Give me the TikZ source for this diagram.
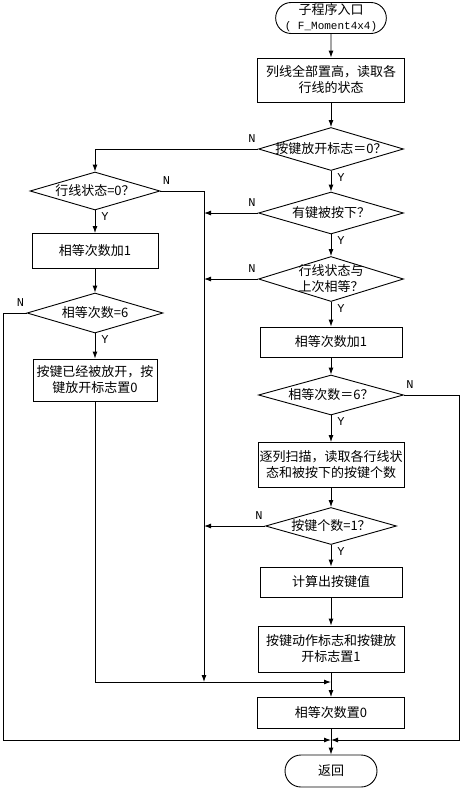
\documentclass[tikz,border=0pt]{standalone}
\usepackage{fontspec}
\setmainfont{Noto Sans CJK SC}
\newfontfamily\latinmono{Liberation Mono}
\usetikzlibrary{arrows.meta,positioning,shapes.geometric,shapes.misc}

\begin{document}
\begin{tikzpicture}[
  x=1pt, y=-1pt, line width=0.9pt,
  every node/.style={font=\fontsize{13}{16}\selectfont},
  block/.style={draw, align=center, inner sep=0pt, minimum width=146pt, minimum height=30pt},
  terminal/.style={draw, rounded rectangle, align=center, inner sep=0pt, minimum width=106pt, minimum height=31pt},
  decision/.style={draw, diamond, inner sep=0pt, minimum width=145pt, minimum height=42pt},
  arrow/.style={-{Latex[length=7pt,width=5pt]}},
  ylab/.style={font=\latinmono\fontsize{12}{12}\selectfont, inner sep=2pt, pos=0, anchor=north west, xshift=4pt},
  nlabl/.style={font=\latinmono\fontsize{12}{12}\selectfont, inner sep=2pt, pos=0, anchor=south east, yshift=4pt},
  nlabr/.style={font=\latinmono\fontsize{12}{12}\selectfont, inner sep=2pt, pos=0, anchor=south west, yshift=4pt}
]
\useasboundingbox (0,0) rectangle (461,788);

\node[terminal] (start) at (331,18) {子程序入口\\[-1pt]{\latinmono\fontsize{11}{13}\selectfont ( F\_Moment4x4)}};
\node[block, minimum width=147pt, minimum height=44pt] (init) at (331,80) {列线全部置高，读取各\\行线的状态};
\node[decision, minimum height=43pt, label={center:按键放开标志＝0？}] (relflag) at (331,149) {};
\node[decision, label={center:有键被按下？}] (anykey) at (331,213) {};
\node[decision, minimum height=45pt, label={[align=center]center:行线状态与\\上次相等？}] (same) at (331,279) {};
\node[block, minimum width=142pt] (incR) at (331,342) {相等次数加1};
\node[decision, minimum height=40pt, label={center:相等次数＝6？}] (sixR) at (331,395) {};
\node[block, minimum height=45pt] (scan) at (331,465) {逐列扫描，读取各行线状\\态和被按下的按键个数};
\node[decision, minimum width=131pt, minimum height=37pt, label={center:按键个数=1？}] (onekey) at (331,526) {};
\node[block, minimum width=142pt] (calc) at (331,582) {计算出按键值};
\node[block, minimum height=46pt] (setflag) at (331,649) {按键动作标志和按键放\\开标志置1};
\node[block, minimum width=147pt, minimum height=31pt] (clear) at (331,713) {相等次数置0};
\node[terminal, minimum width=92pt, minimum height=32pt] (ret) at (331,771) {返回};

\node[decision, minimum width=130pt, minimum height=38pt, label={center:行线状态=0？}] (zeroL) at (95,191) {};
\node[block, minimum width=126pt, minimum height=35pt] (incL) at (95,251) {相等次数加1};
\node[decision, minimum width=136pt, minimum height=40pt, label={center:相等次数=6}] (sixL) at (95,313) {};
\node[block, minimum width=124pt, minimum height=42pt] (released) at (95,380) {按键已经被放开，按\\键放开标志置0};

\coordinate (rail) at (204,682);
\coordinate (outL) at (3,740);
\coordinate (outR) at (459,740);

\draw[arrow] (start) -- (init);
\draw[arrow] (init) -- (relflag);
\draw[arrow] (relflag) -- node[ylab] {Y} (anykey);
\draw[arrow] (anykey) -- node[ylab] {Y} (same);
\draw[arrow] (same) -- node[ylab] {Y} (incR);
\draw[arrow] (incR) -- (sixR);
\draw[arrow] (sixR) -- node[ylab] {Y} (scan);
\draw[arrow] (scan) -- (onekey);
\draw[arrow] (onekey) -- node[ylab] {Y} (calc);
\draw[arrow] (calc) -- (setflag);
\draw[arrow] (setflag) -- (clear);
\draw[arrow] (clear) -- (ret);

\draw[arrow] (relflag.west) -| node[nlabl] {N} (zeroL.north);
\draw[arrow] (zeroL) -- node[ylab] {Y} (incL);
\draw[arrow] (incL) -- (sixL);
\draw[arrow] (sixL) -- node[ylab] {Y} (released);

\draw[arrow] (zeroL.east) -- node[nlabr] {N} (zeroL.east -| rail) -- (rail);
\draw[arrow] (anykey.west) -- node[nlabl] {N} (anykey.west -| rail);
\draw[arrow] (same.west) -- node[nlabl] {N} (same.west -| rail);
\draw[arrow] (onekey.west) -- node[nlabl] {N} (onekey.west -| rail);
\draw[arrow] (released.south) |- (rail -| clear);

\draw[arrow] (sixL.west) -- node[nlabl] {N} (sixL.west -| outL) -- (outL) -- (outL -| ret);
\draw[arrow] (sixR.east) -- node[nlabr] {N} (sixR.east -| outR) -- (outR) -- (outR -| ret);

\end{tikzpicture}
\end{document}
